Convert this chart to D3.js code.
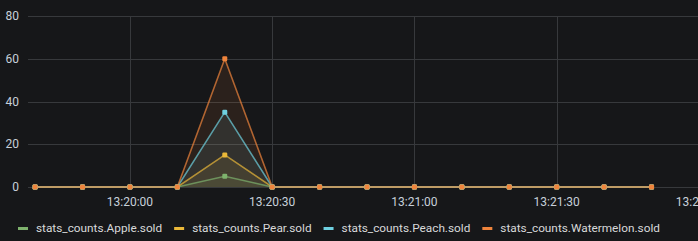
<!DOCTYPE html>
<html>
<head>
<meta charset="utf-8">
<script src="https://cdn.jsdelivr.net/npm/d3@7"></script>
<style>
  html, body { margin: 0; padding: 0; background: #161719; overflow: hidden; }
  text { font-family: Roboto, "Noto Sans", sans-serif; }
</style>
</head>
<body>
<div class="chart"></div>
<script>
var svgWidth = 698;
var svgHeight = 241;

// sample times, every 10 s
var times = ["13:19:40", "13:19:50", "13:20:00", "13:20:10", "13:20:20", "13:20:30", "13:20:40",
  "13:20:50", "13:21:00", "13:21:10", "13:21:20", "13:21:30", "13:21:40", "13:21:50"];

var apple      = [0, 0, 0, 0, 5, 0, 0, 0, 0, 0, 0, 0, 0, 0];
var pear       = [0, 0, 0, 0, 15, 0, 0, 0, 0, 0, 0, 0, 0, 0];
var peach      = [0, 0, 0, 0, 35, 0, 0, 0, 0, 0, 0, 0, 0, 0];
var watermelon = [0, 0, 0, 0, 60, 0, 0, 0, 0, 0, 0, 0, 0, 0];

var seriesNames = ["stats_counts.Apple.sold", "stats_counts.Pear.sold",
  "stats_counts.Peach.sold", "stats_counts.Watermelon.sold"];
var seriesColors = ["#7eb26d", "#eab839", "#6ed0e0", "#ef843c"];
var seriesValues = [apple, pear, peach, watermelon];

var yTicks = [0, 20, 40, 60, 80];
var xTicks = ["13:20:00", "13:20:30", "13:21:00", "13:21:30", "13:22:00"];
var xStart = "13:19:38.5";
var xEnd = "13:21:59.8";

var parseTime = d3.timeParse("%H:%M:%S");
var parseTimeMs = d3.timeParse("%H:%M:%S.%L");
function toDate(s) {
  return s.indexOf(".") > -1 ? parseTimeMs(s + "00") : parseTime(s);
}

var margin = { top: 16, right: 0, bottom: 54, left: 28 };
var plotBottom = svgHeight - margin.bottom;

var svg = d3.select(".chart")
  .append("svg")
  .attr("width", svgWidth)
  .attr("height", svgHeight)
  .style("display", "block");

var xScale = d3.scaleTime()
  .domain([toDate(xStart), toDate(xEnd)])
  .range([margin.left, svgWidth - margin.right]);

var yScale = d3.scaleLinear()
  .domain([0, 80])
  .range([plotBottom, margin.top]);

// horizontal grid
svg.append("g")
  .selectAll("line")
  .data(yTicks)
  .enter()
  .append("line")
  .attr("x1", margin.left)
  .attr("x2", svgWidth)
  .attr("y1", d => Math.round(yScale(d)) + 0.5)
  .attr("y2", d => Math.round(yScale(d)) + 0.5)
  .attr("stroke", "#37393c")
  .attr("stroke-width", 1);

// vertical grid
svg.append("g")
  .selectAll("line")
  .data(xTicks)
  .enter()
  .append("line")
  .attr("x1", d => Math.round(xScale(toDate(d))) + 0.5)
  .attr("x2", d => Math.round(xScale(toDate(d))) + 0.5)
  .attr("y1", margin.top)
  .attr("y2", plotBottom)
  .attr("stroke", "#37393c")
  .attr("stroke-width", 1);

// y labels
svg.append("g")
  .selectAll("text")
  .data(yTicks)
  .enter()
  .append("text")
  .attr("x", 19)
  .attr("y", d => yScale(d))
  .attr("dy", "0.35em")
  .attr("text-anchor", "end")
  .attr("fill", "#c7d0d9")
  .style("font-size", "12px")
  .text(d => d);

// x labels
svg.append("g")
  .selectAll("text")
  .data(xTicks)
  .enter()
  .append("text")
  .attr("x", d => xScale(toDate(d)))
  .attr("y", plotBottom + 19)
  .attr("text-anchor", "middle")
  .attr("fill", "#c7d0d9")
  .style("font-size", "12px")
  .text(d => d);

// areas, lines and points
var area = d3.area()
  .x(d => xScale(d.t))
  .y0(yScale(0))
  .y1(d => yScale(d.v));

var line = d3.line()
  .x(d => xScale(d.t))
  .y(d => yScale(d.v));

var series = seriesValues.map(function(vals, i) {
  return {
    name: seriesNames[i],
    color: seriesColors[i],
    points: vals.map((v, j) => ({ t: toDate(times[j]), v: v }))
  };
});

series.forEach(function(s) {
  svg.append("path")
    .datum(s.points)
    .attr("d", area)
    .attr("fill", s.color)
    .attr("fill-opacity", 0.1);
});

series.forEach(function(s) {
  svg.append("path")
    .datum(s.points)
    .attr("d", line)
    .attr("fill", "none")
    .attr("stroke", s.color)
    .attr("stroke-opacity", 0.7)
    .attr("stroke-width", 1.6);
});

series.forEach(function(s) {
  svg.append("g")
    .selectAll("rect")
    .data(s.points)
    .enter()
    .append("rect")
    .attr("x", d => xScale(d.t) - 2.5)
    .attr("y", d => yScale(d.v) - 2.5)
    .attr("width", 5)
    .attr("height", 5)
    .attr("rx", 1.2)
    .attr("fill", s.color);
});

// legend
var legend = svg.append("g")
  .attr("transform", "translate(18, 228)");
var lx = 0;
series.forEach(function(s) {
  var item = legend.append("g").attr("transform", `translate(${lx}, 0)`);
  item.append("line")
    .attr("x1", 0)
    .attr("x2", 10)
    .attr("y1", 0.5)
    .attr("y2", 0.5)
    .attr("stroke", s.color)
    .attr("stroke-width", 3);
  var t = item.append("text")
    .attr("x", 18)
    .attr("y", 0)
    .attr("dy", "0.35em")
    .attr("fill", "#d8d9da")
    .style("font-size", "11.8px")
    .text(s.name);
  lx += 18 + t.node().getComputedTextLength() + 12;
});
</script>
</body>
</html>
